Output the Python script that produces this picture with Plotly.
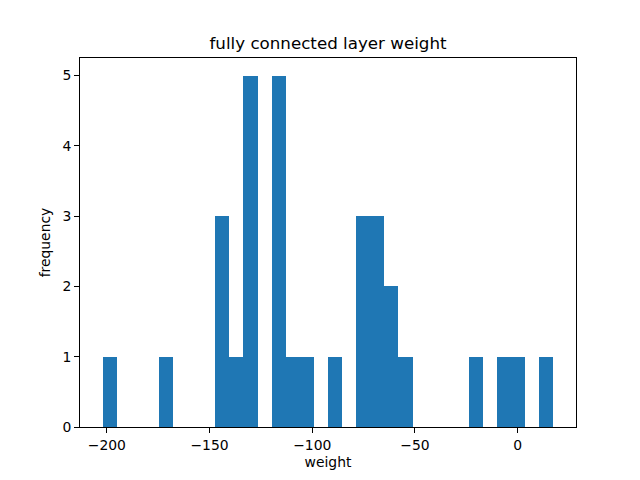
import plotly.graph_objects as go

# Histogram data
bin_start = -202.1
bin_width = 6.86
counts = [1, 0, 0, 0, 1, 0, 0, 0, 3, 1, 5, 0, 5, 1, 1, 0,
          1, 0, 3, 3, 2, 1, 0, 0, 0, 0, 1, 0, 1, 1, 0, 1]
x_ticks = [-200, -150, -100, -50, 0]
y_ticks = [0, 1, 2, 3, 4, 5]

centers = [bin_start + (i + 0.5) * bin_width for i in range(len(counts))]
bin_end = bin_start + bin_width * len(counts)
span = bin_end - bin_start

# page body has an 8px margin; compensate so axes land where the reference has them
off = 8
font = "DejaVu Sans"
fig = go.Figure(go.Bar(
    x=centers, y=counts, width=[bin_width] * len(counts),
    marker=dict(color="#1f77b4", line=dict(width=0)),
))
fig.update_layout(
    width=640, height=480,
    margin=dict(l=80 - off, r=64 + off, t=58 - off, b=53 + off),
    paper_bgcolor="white", plot_bgcolor="white",
    bargap=0, showlegend=False,
    font=dict(family=font, size=13.9, color="black"),
    title=dict(text="fully connected layer weight", x=0.5, xref="paper",
               xanchor="center", y=1 - (43 - off) / 480, yref="container",
               yanchor="middle", font=dict(size=16.7, family=font)),
)
fig.update_xaxes(
    range=[bin_start - 0.05 * span, bin_end + 0.05 * span],
    tickvals=x_ticks, ticks="outside", ticklen=5, tickwidth=1, tickcolor="black",
    showline=True, linecolor="black", linewidth=1, mirror=True,
    showgrid=False, zeroline=False,
    title=dict(text="weight", standoff=5, font=dict(size=13.9)),
)
fig.update_yaxes(
    range=[0, 5.25],
    tickvals=y_ticks, ticks="outside", ticklen=5, tickwidth=1, tickcolor="black",
    showline=True, linecolor="black", linewidth=1, mirror=True,
    showgrid=False, zeroline=False,
    title=dict(text="frequency", standoff=8, font=dict(size=13.9)),
)
fig.write_html("out.html")
